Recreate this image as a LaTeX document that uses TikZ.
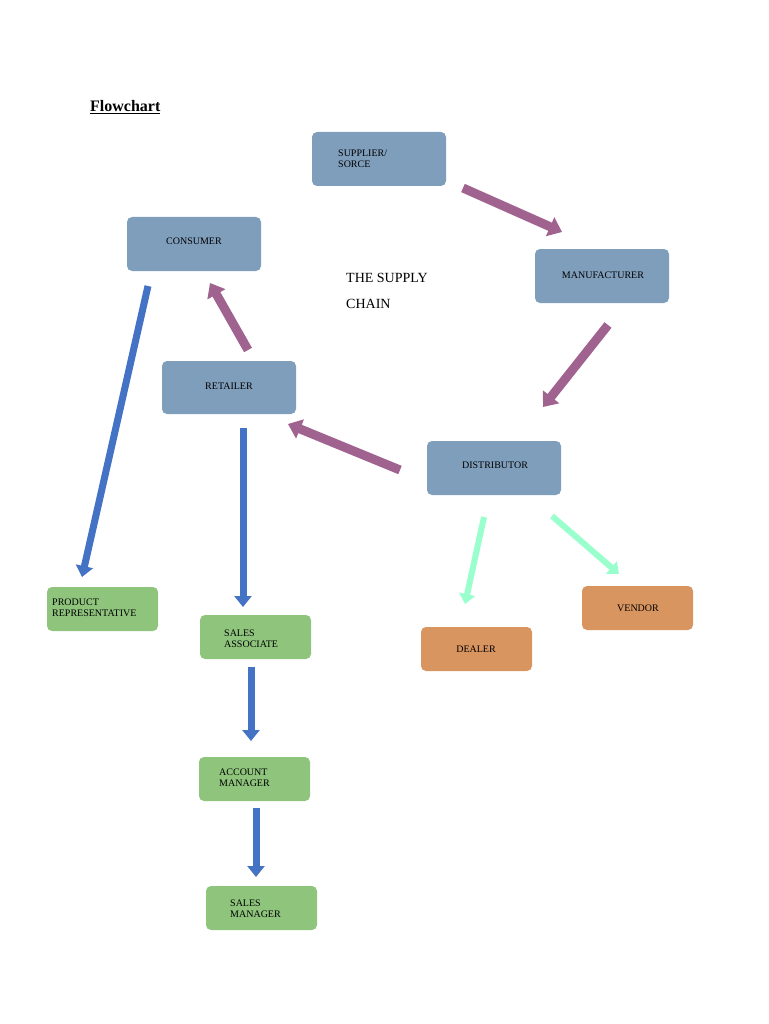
\documentclass[tikz,border=0pt]{standalone}
\usepackage{fontspec}
\setmainfont{Liberation Serif}
\usetikzlibrary{arrows.meta}
\definecolor{boxblue}{HTML}{7F9EBC}
\definecolor{boxgreen}{HTML}{8EC47C}
\definecolor{boxorange}{HTML}{D99560}
\definecolor{arrpurple}{HTML}{A0628F}
\definecolor{arrblue}{HTML}{4472C4}
\definecolor{arrmint}{HTML}{99FFCC}
\tikzset{
  x=1pt,y=-1pt,
  bx/.style={rounded corners=5pt,inner sep=0pt,font=\fontsize{10}{11}\selectfont,align=left},
  bluebox/.style={bx,fill=boxblue},
  greenbox/.style={bx,fill=boxgreen},
  orangebox/.style={bx,fill=boxorange},
  parr/.style={draw=arrpurple,line width=9pt,-{Triangle[width=20pt,length=13pt]}},
  barr/.style={draw=arrblue,line width=7pt,-{Triangle[width=17pt,length=11pt]}},
  marr/.style={draw=arrmint,line width=6pt,-{Triangle[width=16pt,length=10pt]}}
}
\begin{document}
\begin{tikzpicture}
\useasboundingbox (0,0) rectangle (768,1024);
% boxes
\newcommand{\bbox}[7]{\fill[#1] (#2,#3) rectangle (#4,#5);}
\path[bluebox] (312,132) rectangle (446,186); \node[anchor=west,bx] (sup) at (338,159) {SUPPLIER/\\SORCE};
\path[bluebox] (127,217) rectangle (261,271); \node[bx] (con) at (194,241) {CONSUMER};
\path[bluebox] (535,249) rectangle (669,303); \node[bx] (man) at (603,275) {MANUFACTURER};
\path[bluebox] (162,361) rectangle (296,414); \node[bx] (ret) at (229,386) {RETAILER};
\path[bluebox] (427,441) rectangle (561,495); \node[bx] (dis) at (495,465) {DISTRIBUTOR};
\path[greenbox] (47,587) rectangle (158,631); \node[bx,anchor=west] (pro) at (52,608) {PRODUCT\\REPRESENTATIVE};
\path[greenbox] (200,615) rectangle (311,659); \node[bx,anchor=west] (sa) at (224,639) {SALES\\ASSOCIATE};
\path[orangebox] (421,627) rectangle (532,671); \node[bx] (dea) at (476,649) {DEALER};
\path[orangebox] (582,586) rectangle (693,630); \node[bx] (ven) at (638,608) {VENDOR};
\path[greenbox] (199,757) rectangle (310,801); \node[bx,anchor=west] (am) at (219,778) {ACCOUNT\\MANAGER};
\path[greenbox] (206,886) rectangle (317,930); \node[bx,anchor=west] (sm) at (230,909) {SALES\\MANAGER};
% texts
\node[anchor=west,font=\fontsize{16}{18}\selectfont\bfseries,inner sep=0pt] (title) at (90,107) {\underline{Flowchart}};
\node[anchor=west,align=left,font=\fontsize{14}{26}\selectfont,inner sep=0pt] (tsc) at (346,291) {THE SUPPLY\\CHAIN};
% arrow coordinates
\coordinate (a1) at (463,188); \coordinate (a2) at (562,232);
\coordinate (b1) at (608,325); \coordinate (b2) at (543,407);
\coordinate (c1) at (400,470); \coordinate (c2) at (288,424);
\coordinate (d1) at (248,350); \coordinate (d2) at (210,283);
\coordinate (e1) at (148,286); \coordinate (e2) at (82,577);
\coordinate (f1) at (243,428); \coordinate (f2) at (243,607);
\coordinate (g1) at (251,667); \coordinate (g2) at (251,741);
\coordinate (h1) at (256,808); \coordinate (h2) at (256,877);
\coordinate (i1) at (484,517); \coordinate (i2) at (465,604);
\coordinate (j1) at (552,516); \coordinate (j2) at (619,574);
\draw[parr] (a1) -- (a2);
\draw[parr] (b1) -- (b2);
\draw[parr] (c1) -- (c2);
\draw[parr] (d1) -- (d2);
\draw[barr] (e1) -- (e2);
\draw[barr] (f1) -- (f2);
\draw[barr] (g1) -- (g2);
\draw[barr] (h1) -- (h2);
\draw[marr] (i1) -- (i2);
\draw[marr] (j1) -- (j2);
\end{tikzpicture}
\end{document}
